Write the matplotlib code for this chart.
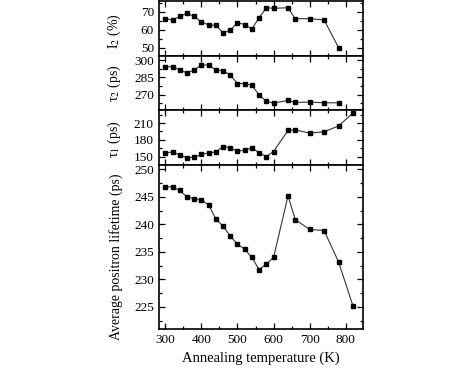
import matplotlib

matplotlib.use("Agg")
import matplotlib.pyplot as plt
from matplotlib.ticker import MultipleLocator

plt.rcParams["font.family"] = ["Liberation Serif", "DejaVu Serif"]
plt.rcParams["mathtext.fontset"] = "stix"

# Annealing temperatures (K)
temp_short = [300, 320, 340, 360, 380, 400, 420, 440, 460, 480, 500,
              520, 540, 560, 580, 600, 640, 660, 700, 740, 780]
temp_long = temp_short + [820]

# I2 (%) and tau2 (ps): measured up to 780 K
i2 = [66.1, 65.4, 67.4, 69.1, 67.4, 64.3, 62.6, 62.4, 58.3, 59.6, 63.9,
      62.8, 60.4, 66.7, 72.2, 71.9, 72.2, 66.1, 66.1, 65.4, 50.0]
tau2 = [294.3, 294.3, 291.4, 288.9, 291.4, 295.7, 295.7, 291.4, 290.8, 287.1,
        279.7, 279.7, 278.2, 269.7, 264.5, 262.8, 265.1, 263.4, 263.7, 263.1,
        263.1]

# tau1 (ps) and average positron lifetime (ps): up to 820 K
tau1 = [156.8, 158.0, 153.0, 147.8, 149.0, 153.7, 156.7, 158.0, 168.0, 165.7,
        159.6, 161.4, 165.7, 156.8, 150.0, 159.0, 196.9, 198.0, 192.0, 194.5,
        205.0, 228.0]
tau_avg = [246.9, 246.8, 246.2, 245.0, 244.7, 244.4, 243.6, 241.0, 239.7,
           237.9, 236.4, 235.5, 234.0, 231.8, 232.8, 234.0, 245.2, 240.9,
           239.1, 238.9, 233.2, 225.2]

# (x, y, label, ylim, major step, minor step, label centre in axes coords)
panels = [
    (temp_short, i2, "I$_2$ (%)", (45.4, 75.9), 10, 5, 0.45),
    (temp_short, tau2, "τ$_2$ (ps)", (256.5, 303.7), 15, 7.5, 0.5),
    (temp_long, tau1, "τ$_1$ (ps)", (134.7, 232.8), 30, 15, 0.47),
    (temp_long, tau_avg, "Average positron lifetime (ps)", (221.0, 250.8), 5, 2.5, 0.44),
]

fig, axes = plt.subplots(4, 1, sharex=True, figsize=(4.74, 3.76), dpi=100,
                         gridspec_kw=dict(height_ratios=[1, 1, 1, 3], hspace=0))
fig.subplots_adjust(left=0.335, right=0.766, top=0.997, bottom=0.125)

for ax, (x, y, label, ylim, major, minor, ly) in zip(axes, panels):
    ax.plot(x, y, color="#333333", lw=0.8, marker="s", ms=3.4,
            mfc="black", mec="black")
    ax.set_ylim(*ylim)
    ax.yaxis.set_major_locator(MultipleLocator(major))
    ax.yaxis.set_minor_locator(MultipleLocator(minor))
    ax.xaxis.set_major_locator(MultipleLocator(100))
    ax.xaxis.set_minor_locator(MultipleLocator(50))
    ax.tick_params(which="both", direction="in", top=True, right=True,
                   labelsize=9.5, width=0.9)
    ax.tick_params(which="major", length=4)
    ax.tick_params(which="minor", length=2)
    for s in ax.spines.values():
        s.set_linewidth(1.2)
    ax.set_ylabel(label, fontsize=10)
    ax.yaxis.set_label_coords(-0.175, ly)

axes[-1].set_xlim(282, 848)
axes[-1].set_xlabel("Annealing temperature (K)", fontsize=10.5, labelpad=4)

fig.savefig("out.png", dpi=100)
